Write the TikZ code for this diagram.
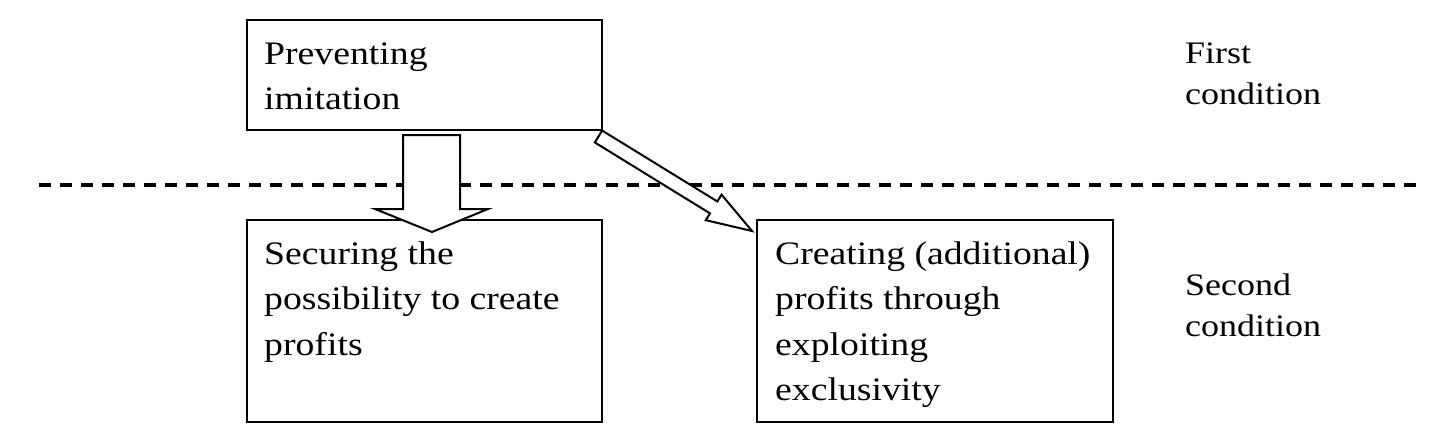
\documentclass[tikz,border=0pt]{standalone}
\usepackage{fontspec}
\setmainfont{Liberation Serif}[FakeStretch=1.15]
\usetikzlibrary{calc}
\begin{document}
\begin{tikzpicture}[x=1pt,y=-1pt,
  box/.style={draw, line width=2pt, minimum width=355pt, inner sep=0pt},
  boxtext/.style={anchor=base west, align=left, inner sep=0pt,
    font=\fontsize{32.8}{45.5}\selectfont},
  sidetext/.style={anchor=base west, align=left, inner sep=0pt,
    font=\fontsize{31.3}{41}\selectfont},
  bigarrow/.style={draw, fill=white, line width=2pt, line join=miter},
  sepline/.style={line width=4pt, dash pattern=on 12pt off 9pt}]
\useasboundingbox (0,0) rectangle (1449,447);
% boxes
\node[box, minimum height=110pt] (b1) at (424.5,75) {};
\node[box, minimum height=202pt] (b2) at (424.5,321) {};
\node[box, minimum height=202pt, minimum width=356pt] (b3) at (935,321) {};
% texts (anchored at the baseline of the last line)
\node[boxtext] (t1) at ($(b1.north west)+(18,90.5)$) {Preventing\\imitation};
\node[boxtext] (t2) at ($(b2.north west)+(18,136)$) {Securing the\\possibility to create\\profits};
\node[boxtext] (t3) at ($(b3.north west)+(19,181.5)$) {Creating (additional)\\profits through\\exploiting\\exclusivity};
\node[sidetext] (c1) at (1185,104) {First\\condition};
\node[sidetext] (c2) at (1185,336) {Second\\condition};
% separator
\coordinate (sl) at (39,185);
\coordinate (sr) at (1423,185);
\draw[sepline] (sl) -- (sr);
% down arrow
\draw[bigarrow] ($(b1.south)+(-21.5,4)$) -- ($(b1.south)+(35.5,4)$)
  -- ($(b2.north)+(35.5,-10)$) -- ($(b2.north)+(63.5,-10)$)
  -- ($(b2.north)+(7.5,13)$) -- ($(b2.north)+(-49.5,-10)$)
  -- ($(b2.north)+(-21.5,-10)$) -- cycle;
% diagonal arrow
\coordinate (S) at ($(b1.south east)+(-4.5,5.5)$);
\coordinate (T) at ($(b3.north west)+(-4,12)$);
\coordinate (B) at ($(T)!45pt!(S)$);
\draw[bigarrow] ($(S)!7pt!90:(T)$) -- ($(B)!7pt!-90:(S)$) -- ($(B)!15pt!-90:(S)$)
  -- (T) -- ($(B)!15pt!90:(S)$) -- ($(B)!7pt!90:(S)$) -- ($(S)!7pt!-90:(T)$) -- cycle;
\end{tikzpicture}
\end{document}
